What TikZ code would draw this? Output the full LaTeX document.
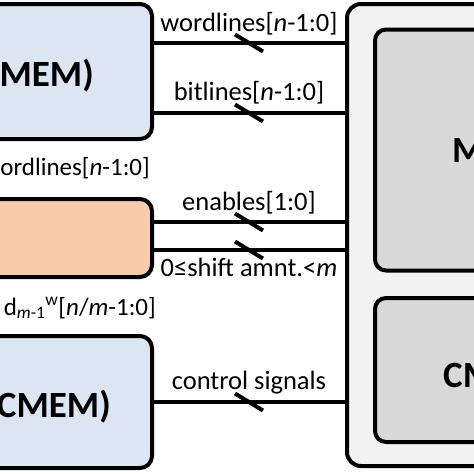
\documentclass[tikz,border=0pt]{standalone}
\usepackage{fontspec}
\setmainfont{Carlito}
\definecolor{memblue}{HTML}{DCE6F2}
\definecolor{shiftorange}{HTML}{F8CBAD}
\definecolor{outergray}{HTML}{F2F2F2}
\definecolor{innergray}{HTML}{D9D9D9}
\tikzset{
  blk/.style={draw, line width=4pt, rounded corners=12pt, inner sep=0pt},
  wire/.style={line width=4pt},
  lbl/.style={font=\fontsize{26.5}{29}\selectfont, inner sep=0pt},
  sidelbl/.style={font=\fontsize{25}{28}\selectfont, inner sep=0pt},
  big/.style={font=\fontsize{37}{40}\selectfont\bfseries, inner sep=0pt}
}
\begin{document}
\begin{tikzpicture}[x=1pt, y=-1pt]
  \useasboundingbox (0,0) rectangle (474,474);
  \clip (0,0) rectangle (474,474);
  % blocks on the left
  \node[blk, fill=memblue, minimum width=252pt, minimum height=135pt] (topmem) at (26,71.5) {};
  \node[blk, fill=shiftorange, minimum width=252pt, minimum height=78pt] (shifter) at (26,238) {};
  \node[blk, fill=memblue, minimum width=252pt, minimum height=132pt] (botmem) at (26,402) {};
  % block on the right
  \node[blk, fill=outergray, rounded corners=14pt, minimum width=253pt, minimum height=462pt] (outer) at (473.5,235) {};
  \node[blk, fill=innergray, rounded corners=11pt, minimum width=225pt, minimum height=241pt] (innertop) at (487.5,150) {};
  \node[blk, fill=innergray, rounded corners=11pt, minimum width=225pt, minimum height=144pt] (innerbot) at (487.5,370) {};
  % block texts
  \node[big, anchor=base east] (tmemtxt) at (94,86) {MEM)};
  \node[big, anchor=base east] (bmemtxt) at (111,417) {CMEM)};
  \node[big, anchor=base west] (itoptxt) at (452,162) {M};
  \node[big, anchor=base west] (ibottxt) at (443,387) {CM};
  \node[sidelbl, anchor=base east] (wlleft) at (150,175) {ordlines[\textit{n}-1:0]};
  \node[sidelbl, anchor=base east] (wdleft) at (156,315) {d\textsubscript{\textit{m}-1}\textsuperscript{w}[\textit{n}/\textit{m}-1:0]};
  % buses
  \coordinate (w1) at (249,43);
  \coordinate (w2) at (249,113);
  \coordinate (w3) at (249,222);
  \coordinate (w4) at (249,250);
  \coordinate (w5) at (249,402);
  \draw[wire] (topmem.east |- w1) -- (outer.west |- w1);
  \draw[wire] (topmem.east |- w2) -- (outer.west |- w2);
  \draw[wire] (shifter.east |- w3) -- (outer.west |- w3);
  \draw[wire] (shifter.east |- w4) -- (outer.west |- w4);
  \draw[wire] (botmem.east |- w5) -- (outer.west |- w5);
  \foreach \w in {w1,w2,w3,w4,w5}
    \draw[wire] ([shift={(-14,-8.5)}]\w) -- ([shift={(14,8.5)}]\w);
  % bus labels
  \node[lbl, anchor=base] (wlbl) at ([yshift=12pt]w1) {wordlines[\textit{n}-1:0]};
  \node[lbl, anchor=base] (blbl) at ([yshift=13pt]w2) {bitlines[\textit{n}-1:0]};
  \node[lbl, anchor=base] (elbl) at ([yshift=12pt]w3) {enables[1:0]};
  \node[lbl, anchor=base] (slbl) at ([yshift=-26pt]w4) {0≤shift amnt.<\textit{m}};
  \node[lbl, anchor=base] (clbl) at ([yshift=13pt]w5) {control signals};
\end{tikzpicture}
\end{document}
